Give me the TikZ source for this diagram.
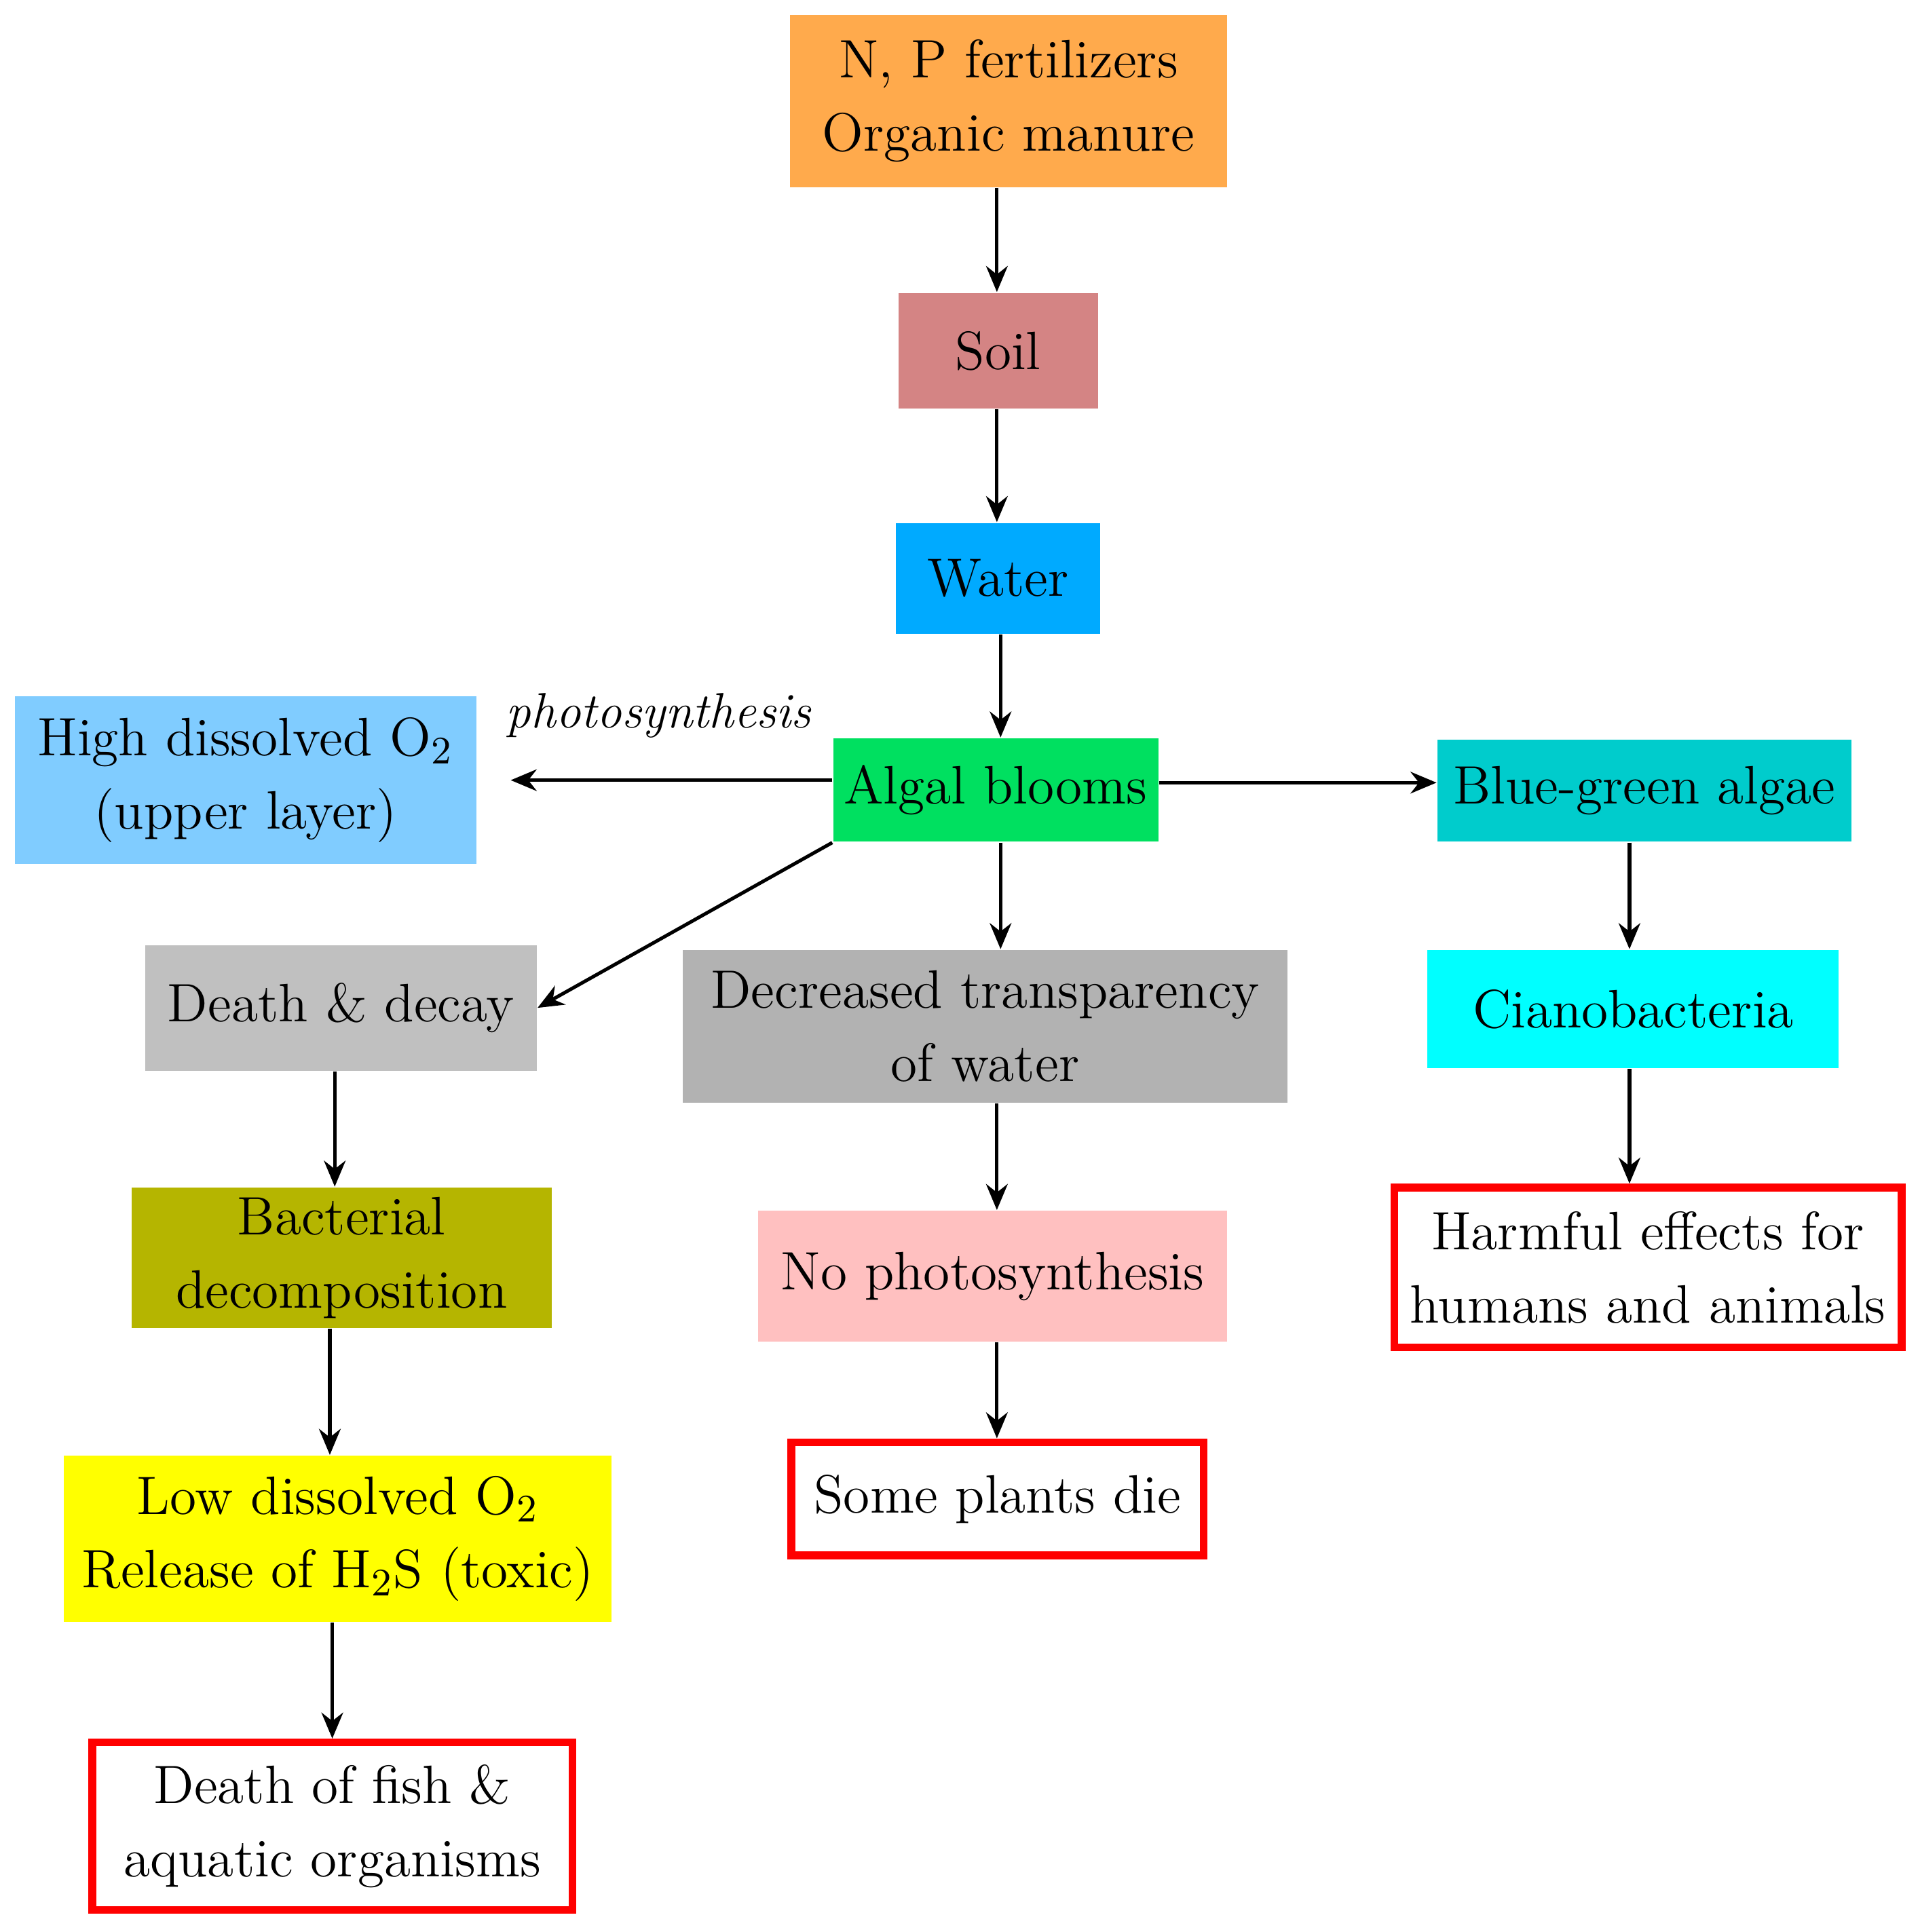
\documentclass[tikz,border=0pt]{standalone}
\usetikzlibrary{arrows.meta}
\begin{document}
\begin{tikzpicture}[x=0.01cm,y=-0.01cm,
 box/.style={inner sep=0pt,align=center,font=\fontsize{12.5}{17}\selectfont},
 bad/.style={box,draw=red,line width=1.8pt,fill=white},
 arr/.style={-{Stealth[length=6pt,width=5pt]},line width=0.8pt}]
\useasboundingbox (0,0) rectangle (1560,1570);
\definecolor{cfert}{HTML}{FFAA4C}\definecolor{csoil}{HTML}{D48484}
\definecolor{cwater}{HTML}{00AAFF}\definecolor{calg}{HTML}{00E060}
\definecolor{chigh}{HTML}{80CCFF}\definecolor{cbg}{HTML}{00CCCC}
\definecolor{ccia}{HTML}{00FFFF}\definecolor{cdd}{HTML}{C0C0C0}
\definecolor{cdec}{HTML}{B2B2B2}\definecolor{cnop}{HTML}{FFC0C0}
\definecolor{cbac}{HTML}{B5B500}\definecolor{clow}{HTML}{FFFF00}
\node[box,fill=cfert,minimum width=3.55cm,minimum height=1.4cm] (fert) at (819.5,82) {N, P fertilizers\\Organic manure};
\node[box,fill=csoil,minimum width=1.62cm,minimum height=0.94cm] (soil) at (811,285) {Soil};
\node[box,fill=cwater,minimum width=1.66cm,minimum height=0.9cm] (water) at (811,470) {Water};
\node[box,fill=calg,minimum width=2.64cm,minimum height=0.84cm] (alg) at (809,642) {Algal blooms};
\node[box,fill=chigh,minimum width=3.75cm,minimum height=1.36cm] (high) at (199.5,634) {High dissolved O$_2$\\(upper layer)};
\node[box,fill=cbg,minimum width=3.36cm,minimum height=0.83cm] (bg) at (1336,642.5) {Blue-green algae};
\node[box,fill=ccia,minimum width=3.34cm,minimum height=0.96cm] (cia) at (1327,820) {Cianobacteria};
\node[bad,minimum width=4.12cm,minimum height=1.3cm] (harm) at (1339,1030) {Harmful effects for\\humans and animals};
\node[box,fill=cdd,minimum width=3.18cm,minimum height=1.02cm] (dd) at (277,819) {Death \& decay};
\node[box,fill=cdec,minimum width=4.91cm,minimum height=1.24cm] (dec) at (800.5,834) {Decreased transparency\\of water};
\node[box,fill=cnop,minimum width=3.81cm,minimum height=1.06cm] (nop) at (806.5,1037) {No photosynthesis};
\node[bad,minimum width=3.35cm,minimum height=0.92cm] (some) at (810.5,1218) {Some plants die};
\node[box,fill=cbac,minimum width=3.41cm,minimum height=1.14cm] (bac) at (277.5,1022) {Bacterial\\decomposition};
\node[box,fill=clow,minimum width=4.45cm,minimum height=1.35cm] (low) at (274.5,1250.5) {Low dissolved O$_2$\\Release of H$_2$S (toxic)};
\node[bad,minimum width=3.9cm,minimum height=1.36cm] (fish) at (270,1484) {Death of fish \&\\aquatic organisms};
\coordinate (hin) at (415,634);
\draw[arr] (fert.south -| 810,0) -- (soil.north -| 810,0);
\draw[arr] (soil.south -| 810,0) -- (water.north -| 810,0);
\draw[arr] (water.south -| 813,0) -- (alg.north -| 813,0);
\draw[arr] (alg.south -| 813,0) -- (dec.north -| 813,0);
\draw[arr] (alg.west |- 0,634) -- node[above=6pt,xshift=-3pt,font=\fontsize{11.5}{14}\selectfont\itshape]{photosynthesis} (hin);
\draw[arr] (alg.east |- 0,636) -- (bg.west |- 0,636);
\draw[arr] (alg.south west) -- (dd.east);
\draw[arr] (bg.south -| 1324,0) -- (cia.north -| 1324,0);
\draw[arr] (cia.south -| 1324,0) -- (harm.north -| 1324,0);
\draw[arr] (dd.south -| 272,0) -- (bac.north -| 272,0);
\draw[arr] (bac.south -| 268,0) -- (low.north -| 268,0);
\draw[arr] (low.south -| 270,0) -- (fish.north -| 270,0);
\draw[arr] (dec.south -| 810,0) -- (nop.north -| 810,0);
\draw[arr] (nop.south -| 810,0) -- (some.north -| 810,0);
\end{tikzpicture}
\end{document}
